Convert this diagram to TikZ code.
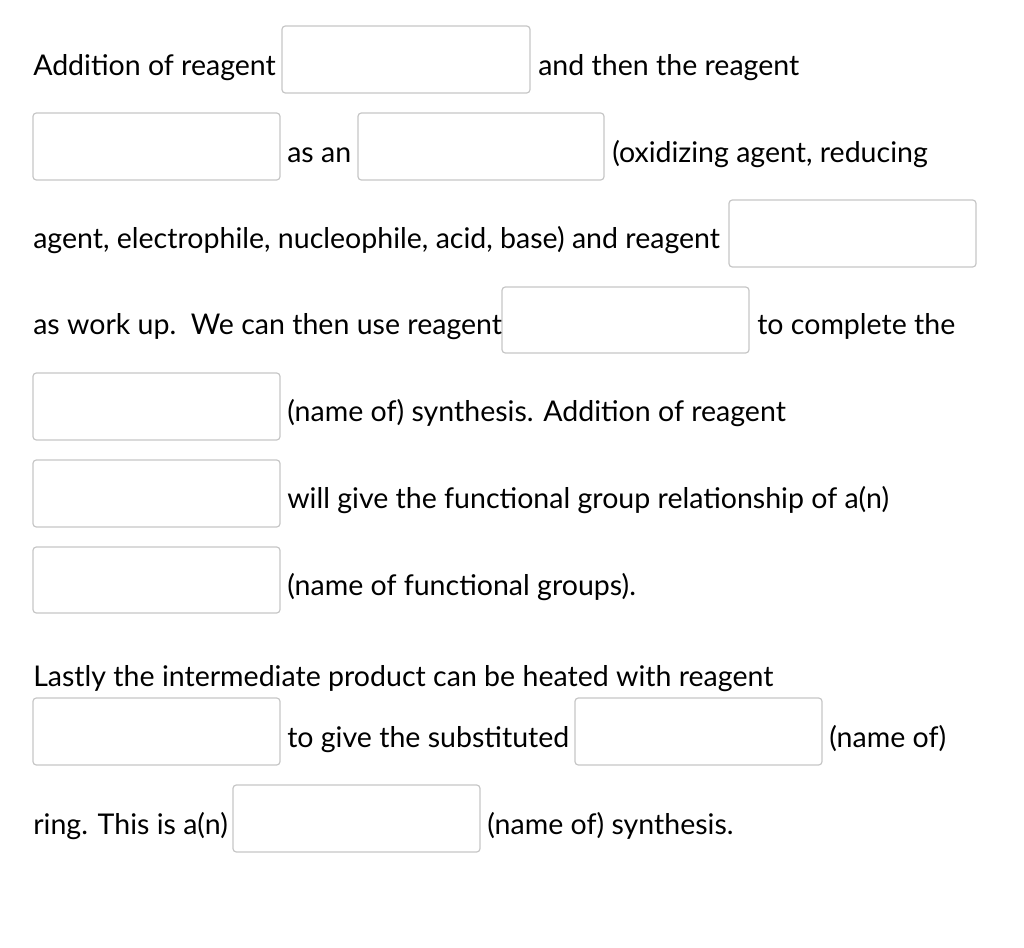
\documentclass[tikz,border=0pt]{standalone}
\usepackage{fontspec}
\setmainfont{Lato}
\begin{document}
\begin{tikzpicture}[x=0.75pt,y=-0.75pt,
  blank/.style={draw=black!22,line width=0.9pt,rounded corners=2.5pt,fill=white},
  txt/.style={anchor=west,inner sep=0pt,font=\fontsize{21.4}{25}\selectfont,text height=0.72em,text depth=0.22em}]
\useasboundingbox[fill=white] (0,0) rectangle (1024,948);
\foreach \n/\a/\b/\c/\d in {b1/282/26/530/93, b2/33/113/280/180, b3/358/113/604/180, b4/729/200/976/267, b5/502/287/749/353, b6/33/373/280/440, b7/33/460/280/527, b8/33/547/280/613, b9/33/698/280/765, b10/575/698/822/765, b11/233/785/480/852}
  \draw[blank] (\a,\b) rectangle (\c,\d) coordinate (\n);
\begin{scope}[yshift=-3.75pt]
\node[txt] (t1) at (33,67) {Addition of reagent};
\node[txt] (t2) at (538,67) {and then the reagent};
\node[txt] (t3) at (287,154) {as an};
\node[txt] (t4) at (612,154) {(oxidizing agent, reducing};
\node[txt] (t5) at (33,240) {agent, electrophile, nucleophile, acid, base) and reagent};
\node[txt] (t6) at (33,326) {as work up.\ \ We can then use reagent};
\node[txt] (t7) at (757,326) {to complete the};
\node[txt] (t8) at (287,413) {(name of) synthesis. Addition of reagent};
\node[txt] (t9) at (287,500) {will give the functional group relationship of a(n)};
\node[txt] (t10) at (287,587) {(name of functional groups).};
\node[txt] (t11) at (33,678) {Lastly the intermediate product can be heated with reagent};
\node[txt] (t12) at (287,739) {to give the substituted};
\node[txt] (t13) at (829,739) {(name of)};
\node[txt] (t14) at (33,826) {ring. This is a(n)};
\node[txt] (t15) at (487,826) {(name of) synthesis.};
\end{scope}
\end{tikzpicture}
\end{document}
